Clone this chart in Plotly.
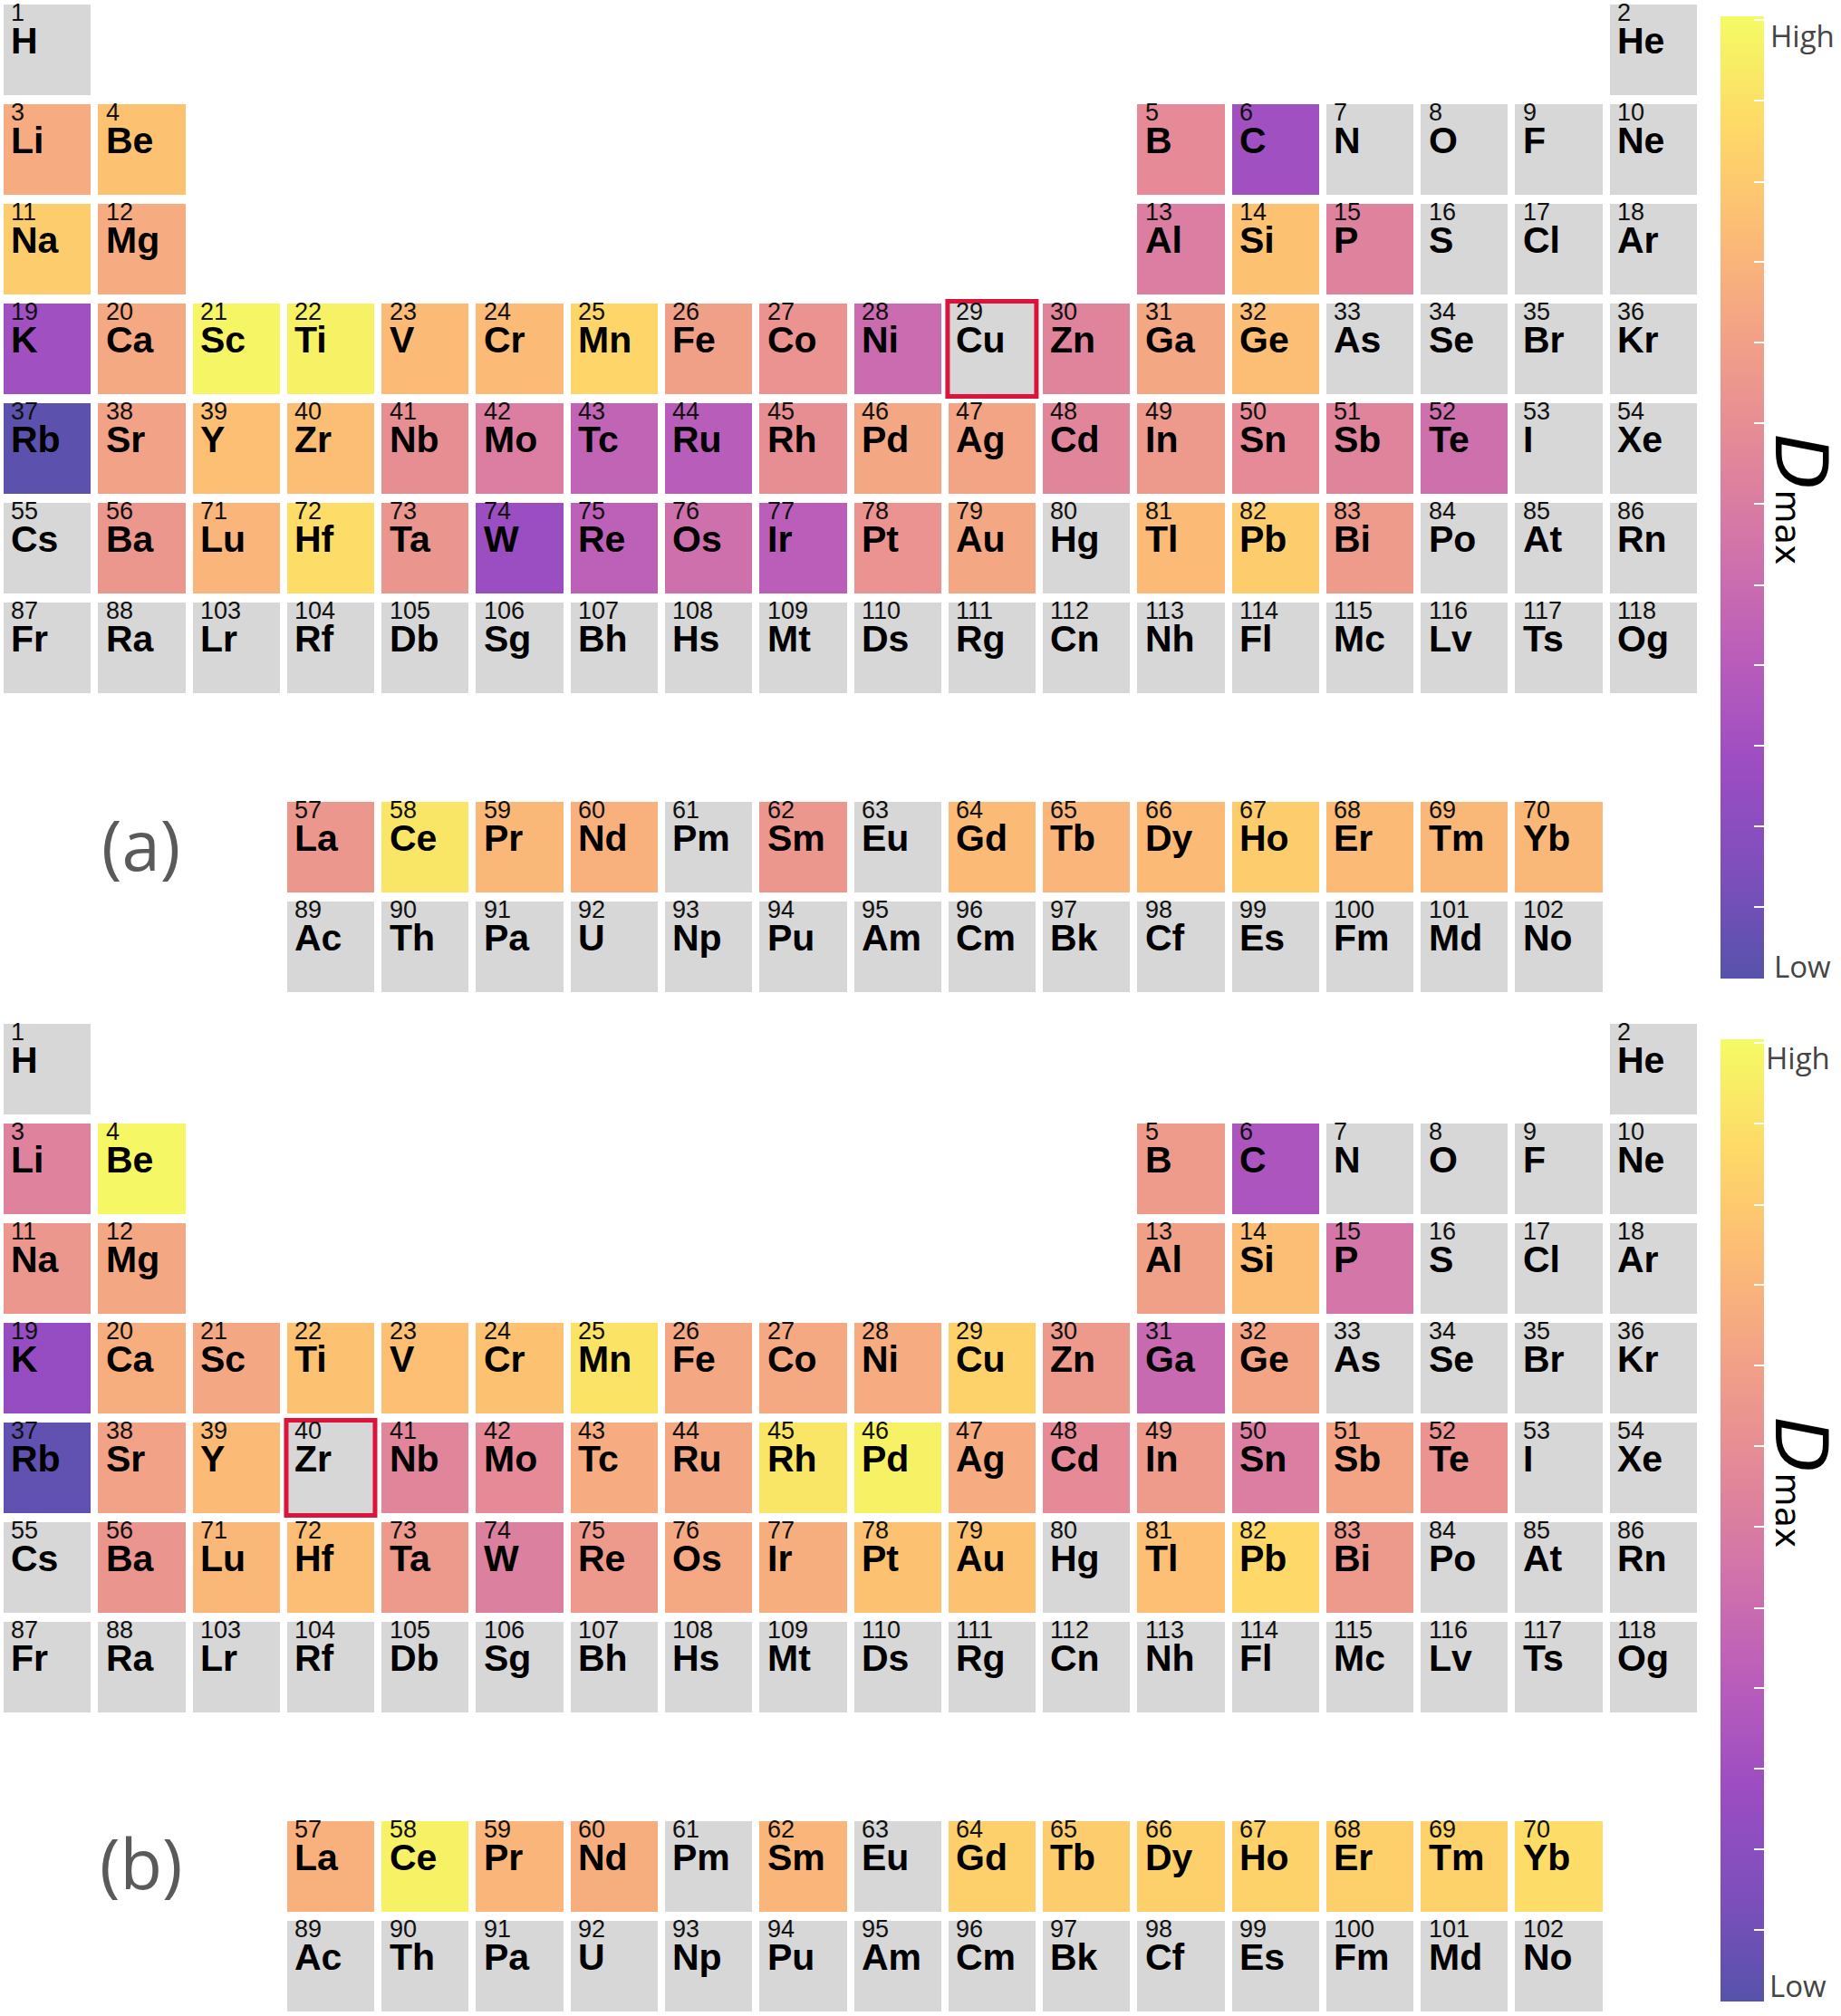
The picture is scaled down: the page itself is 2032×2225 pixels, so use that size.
import plotly.graph_objects as go
from plotly.colors import sequential, hex_to_rgb

# --------------------------------------------------
# data
# --------------------------------------------------
elements = [
    "H", "He", "Li", "Be", "B", "C", "N", "O", "F", "Ne",
    "Na", "Mg", "Al", "Si", "P", "S", "Cl", "Ar", "K", "Ca",
    "Sc", "Ti", "V", "Cr", "Mn", "Fe", "Co", "Ni", "Cu", "Zn",
    "Ga", "Ge", "As", "Se", "Br", "Kr", "Rb", "Sr", "Y", "Zr",
    "Nb", "Mo", "Tc", "Ru", "Rh", "Pd", "Ag", "Cd", "In", "Sn",
    "Sb", "Te", "I", "Xe", "Cs", "Ba", "La", "Ce", "Pr", "Nd",
    "Pm", "Sm", "Eu", "Gd", "Tb", "Dy", "Ho", "Er", "Tm", "Yb",
    "Lu", "Hf", "Ta", "W", "Re", "Os", "Ir", "Pt", "Au", "Hg",
    "Tl", "Pb", "Bi", "Po", "At", "Rn", "Fr", "Ra", "Ac", "Th",
    "Pa", "U", "Np", "Pu", "Am", "Cm", "Bk", "Cf", "Es", "Fm",
    "Md", "No", "Lr", "Rf", "Db", "Sg", "Bh", "Hs", "Mt", "Ds",
    "Rg", "Cn", "Nh", "Fl", "Mc", "Lv", "Ts", "Og",
]

# normalised D_max (0 = low, 1 = high), missing -> grey tile
dmax_a = {
    "Li": 0.71, "Be": 0.80, "B": 0.56, "C": 0.24,
    "Na": 0.84, "Mg": 0.71, "Al": 0.50, "Si": 0.80, "P": 0.52,
    "K": 0.24, "Ca": 0.70, "Sc": 0.98, "Ti": 0.97, "V": 0.77, "Cr": 0.77,
    "Mn": 0.87, "Fe": 0.66, "Co": 0.60, "Ni": 0.41, "Zn": 0.53,
    "Ga": 0.69, "Ge": 0.78,
    "Rb": 0.02, "Sr": 0.67, "Y": 0.79, "Zr": 0.78, "Nb": 0.58, "Mo": 0.50,
    "Tc": 0.37, "Ru": 0.33, "Rh": 0.58, "Pd": 0.69, "Ag": 0.68, "Cd": 0.54,
    "In": 0.63, "Sn": 0.56, "Sb": 0.53, "Te": 0.43,
    "Ba": 0.62, "Lu": 0.75, "Hf": 0.90, "Ta": 0.61, "W": 0.22, "Re": 0.35,
    "Os": 0.43, "Ir": 0.34, "Pt": 0.60, "Au": 0.69, "Tl": 0.77, "Pb": 0.84,
    "Bi": 0.64,
    "La": 0.62, "Ce": 0.93, "Pr": 0.76, "Nd": 0.73, "Sm": 0.62, "Gd": 0.77,
    "Tb": 0.75, "Dy": 0.77, "Ho": 0.84, "Er": 0.77, "Tm": 0.76, "Yb": 0.76,
}

dmax_b = {
    "Li": 0.52, "Be": 0.99, "B": 0.64, "C": 0.28,
    "Na": 0.62, "Mg": 0.69, "Al": 0.66, "Si": 0.78, "P": 0.46,
    "K": 0.20, "Ca": 0.72, "Sc": 0.69, "Ti": 0.80, "V": 0.79, "Cr": 0.80,
    "Mn": 0.92, "Fe": 0.69, "Co": 0.70, "Ni": 0.71, "Cu": 0.86, "Zn": 0.63,
    "Ga": 0.40, "Ge": 0.68,
    "Rb": 0.03, "Sr": 0.67, "Y": 0.77, "Nb": 0.54, "Mo": 0.56,
    "Tc": 0.71, "Ru": 0.69, "Rh": 0.93, "Pd": 0.97, "Ag": 0.71, "Cd": 0.56,
    "In": 0.64, "Sn": 0.50, "Sb": 0.68, "Te": 0.60,
    "Ba": 0.61, "Lu": 0.76, "Hf": 0.78, "Ta": 0.63, "W": 0.51, "Re": 0.63,
    "Os": 0.70, "Ir": 0.72, "Pt": 0.80, "Au": 0.80, "Tl": 0.79, "Pb": 0.88,
    "Bi": 0.63,
    "La": 0.73, "Ce": 0.97, "Pr": 0.75, "Nd": 0.72, "Sm": 0.75, "Gd": 0.85,
    "Tb": 0.84, "Dy": 0.85, "Ho": 0.86, "Er": 0.85, "Tm": 0.86, "Yb": 0.90,
}

highlight = {"a": "Cu", "b": "Zr"}
panel_labels = ["(a)", "(b)"]
cbar_ticks = [0.074, 0.158, 0.242, 0.326, 0.409, 0.493,
              0.577, 0.661, 0.745, 0.828, 0.912, 0.996]

# --------------------------------------------------
# helpers
# --------------------------------------------------
W, H = 2032, 2225
PLOT_W = 1877
NCOL, NROW = 18, 10


def position(z):
    # (row, col) of element z in the standard layout
    if z == 1:
        return 0, 0
    if z == 2:
        return 0, 17
    if z <= 10:
        return 1, (z - 3) if z <= 4 else (z - 5 + 12)
    if z <= 18:
        return 2, (z - 11) if z <= 12 else (z - 13 + 12)
    if z <= 36:
        return 3, z - 19
    if z <= 54:
        return 4, z - 37
    if z <= 56:
        return 5, z - 55
    if z <= 70:
        return 8, z - 57 + 3
    if z <= 86:
        return 5, z - 71 + 2
    if z <= 88:
        return 6, z - 87
    if z <= 102:
        return 9, z - 89 + 3
    return 6, z - 103 + 2


def blend(hexcol, a=0.70):
    r, g, b = hex_to_rgb(hexcol)
    return "rgb(%d,%d,%d)" % (round(a * r + (1 - a) * 255),
                               round(a * g + (1 - a) * 255),
                               round(a * b + (1 - a) * 255))


plasma = sequential.Plasma
cscale = [[i / (len(plasma) - 1), blend(c)] for i, c in enumerate(plasma)]

# --------------------------------------------------
# figure
# --------------------------------------------------
fig = go.Figure()

domains = [[1 - 1100 / H, 1.0], [0.0, 1100 / H]]
cbar_top = [18, 1147]
label_y = [931, 2055]
high_pos = [(1952, 40), (1947, 1167)]
low_pos = [(1956, 1066), (1951, 2191)]
dmax_y = [551, 1636]

annotations = []
shapes = []

for p, (key, vals) in enumerate([("a", dmax_a), ("b", dmax_b)]):
    xa = "x" if p == 0 else "x2"
    ya = "y" if p == 0 else "y2"

    zc = [[None] * NCOL for _ in range(NROW)]
    zg = [[None] * NCOL for _ in range(NROW)]
    for i, sym in enumerate(elements):
        r, c = position(i + 1)
        v = vals.get(sym)
        if v is None:
            zg[r][c] = 1
        else:
            zc[r][c] = v

        annotations.append(dict(
            x=c - 0.40, y=r - 0.372, xref=xa, yref=ya, text=str(i + 1),
            showarrow=False, xanchor="left", yanchor="middle",
            font=dict(family="Liberation Sans", size=27, color="#111")))
        annotations.append(dict(
            x=c - 0.40, y=r - 0.09, xref=xa, yref=ya, text=sym,
            showarrow=False, xanchor="left", yanchor="middle",
            font=dict(family="Liberation Sans", size=41, color="black",
                      weight="bold")))

    fig.add_trace(go.Heatmap(
        z=zg, x=list(range(NCOL)), y=list(range(NROW)),
        colorscale=[[0, "#d7d7d7"], [1, "#d7d7d7"]], showscale=False,
        xgap=8, ygap=10, hoverinfo="skip", xaxis=xa, yaxis=ya))

    fig.add_trace(go.Heatmap(
        z=zc, x=list(range(NCOL)), y=list(range(NROW)),
        colorscale=cscale, zmin=0, zmax=1, xgap=8, ygap=10,
        xaxis=xa, yaxis=ya,
        hovertemplate="%{z:.2f}<extra></extra>",
        colorbar=dict(
            x=1899 / PLOT_W, xanchor="left", xpad=0,
            y=1 - cbar_top[p] / H, yanchor="top", ypad=0,
            len=1062 / H, lenmode="fraction",
            thickness=48, outlinewidth=0,
            ticks="inside", ticklen=11, tickwidth=2, tickcolor="white",
            tickvals=cbar_ticks, showticklabels=False,
        )))

    # red box around the reference element
    hz = elements.index(highlight[key]) + 1
    hr, hc = position(hz)
    shapes.append(dict(
        type="rect", xref=xa, yref=ya,
        x0=hc - 0.47, x1=hc + 0.47, y0=hr - 0.477, y1=hr + 0.477,
        line=dict(color="#dc143c", width=5)))

    annotations.append(dict(
        x=155 / PLOT_W, y=1 - label_y[p] / H, xref="paper", yref="paper",
        text=panel_labels[p], showarrow=False,
        xanchor="center", yanchor="middle",
        font=dict(family="Open Sans", size=76, color="#5a5a5a")))
    annotations.append(dict(
        x=high_pos[p][0] / PLOT_W, y=1 - high_pos[p][1] / H,
        xref="paper", yref="paper", text="High", showarrow=False,
        xanchor="left", yanchor="middle",
        font=dict(family="Open Sans", size=33, color="#444")))
    annotations.append(dict(
        x=low_pos[p][0] / PLOT_W, y=1 - low_pos[p][1] / H,
        xref="paper", yref="paper", text="Low", showarrow=False,
        xanchor="left", yanchor="middle",
        font=dict(family="Open Sans", size=33, color="#444")))
    annotations.append(dict(
        x=1988 / PLOT_W, y=1 - dmax_y[p] / H, xref="paper", yref="paper",
        text=("<i><span style='font-size:80px'>D</span></i>"
              "<span style='font-size:38px'>max</span>"),
        showarrow=False, textangle=90, xanchor="center", yanchor="middle",
        font=dict(family="DejaVu Sans", size=60, color="black")))

axis_x = dict(range=[-0.5, NCOL - 0.5], visible=False, fixedrange=True)
axis_y = dict(range=[NROW - 0.5, -0.5], visible=False, fixedrange=True)

fig.update_layout(
    width=W, height=H,
    margin=dict(l=0, r=W - PLOT_W, t=0, b=0),
    paper_bgcolor="white", plot_bgcolor="white",
    xaxis=dict(axis_x, domain=[0, 1], anchor="y"),
    yaxis=dict(axis_y, domain=domains[0], anchor="x"),
    xaxis2=dict(axis_x, domain=[0, 1], anchor="y2"),
    yaxis2=dict(axis_y, domain=domains[1], anchor="x2"),
    annotations=annotations,
    shapes=shapes,
    showlegend=False,
)

# drop the default page margin so the figure sits at the window corner
fig.write_html("out.html", config={"displayModeBar": False},
               post_script="document.body.style.margin='0px';")
